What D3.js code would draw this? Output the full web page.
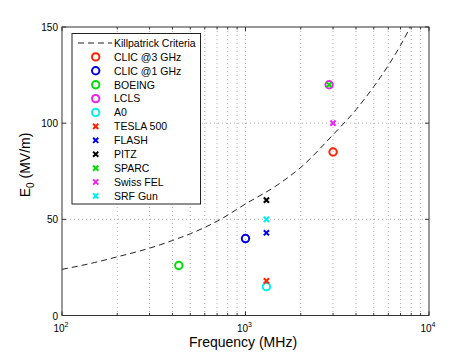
<!DOCTYPE html>
<html><head><meta charset="utf-8">
<script src="https://cdn.jsdelivr.net/npm/d3@7"></script>
<style>
html,body{margin:0;padding:0;background:#fff;}
svg{display:block;font-family:"Liberation Sans",Arial,Helvetica,sans-serif;}
</style></head>
<body><svg id="c" width="474" height="355"></svg>
<script>
// ---- data ----
const seriesNames = ["CLIC @3 GHz","CLIC @1 GHz","BOEING","LCLS","A0","TESLA 500","FLASH","PITZ","SPARC","Swiss FEL","SRF Gun"];
const seriesFreq  = [3000, 1000, 433, 2856, 1300, 1300, 1300, 1300, 2856, 3000, 1300];
const seriesE0    = [85, 40, 26, 120, 15, 18, 43, 60, 120, 100, 50];
const seriesShape = ["o","o","o","o","o","x","x","x","x","x","x"];
const seriesColor = ["#ff2200","#0000ee","#00dd00","#ee22ee","#00eeee","#ff2200","#0000ee","#000000","#00dd00","#ee22ee","#00eeee"];
const kilFreq = [100, 150, 200, 300, 400, 500, 700, 1000, 1500, 2000, 3000, 4000, 5000, 6000, 7000, 7900];
const kilE0   = [24, 27.5, 30.5, 35, 39, 42.5, 49, 58, 68, 77, 94, 107, 119, 130, 140.5, 150];
const yTicks = [0, 50, 100, 150];
const xMajor = [100, 1000, 10000];

// ---- layout ----
const svg = d3.select("#c");
const L = 62, R = 429, T = 27, B = 315.5;
const x = d3.scaleLog().domain([100, 10000]).range([L, R]);
const y = d3.scaleLinear().domain([0, 150]).range([B, T]);

const xMinor = [];
[100, 1000].forEach(d => { for (let k = 2; k <= 9; k++) xMinor.push(d * k); });

// grid
const grid = svg.append("g").attr("stroke", "#9a9a9a").attr("stroke-width", 0.8).attr("stroke-dasharray", "1,3");
xMinor.concat([1000]).forEach(f => {
  grid.append("line").attr("x1", x(f)).attr("x2", x(f)).attr("y1", T).attr("y2", B);
});
[50, 100].forEach(v => {
  grid.append("line").attr("x1", L).attr("x2", R).attr("y1", y(v)).attr("y2", y(v));
});

// Kilpatrick line
svg.append("clipPath").attr("id", "pc").append("rect").attr("x", L).attr("y", T).attr("width", R - L).attr("height", B - T);
const kil = kilFreq.map((f, i) => [f, kilE0[i]]);
svg.append("path").attr("clip-path", "url(#pc)")
  .attr("d", d3.line().curve(d3.curveMonotoneX).x(d => x(d[0])).y(d => y(d[1]))(kil))
  .attr("fill", "none").attr("stroke", "#222").attr("stroke-width", 1).attr("stroke-dasharray", "6,4");

// markers
function drawMarker(g, shape, color, cx, cy) {
  if (shape === "o") {
    g.append("circle").attr("cx", cx).attr("cy", cy).attr("r", 3.7)
      .attr("fill", "none").attr("stroke", color).attr("stroke-width", 2);
  } else {
    const s = 2.6;
    g.append("path").attr("d", `M${cx - s},${cy - s}L${cx + s},${cy + s}M${cx - s},${cy + s}L${cx + s},${cy - s}`)
      .attr("stroke", color).attr("stroke-width", 2).attr("fill", "none");
  }
}
const mg = svg.append("g");
seriesNames.forEach((n, i) => drawMarker(mg, seriesShape[i], seriesColor[i], x(seriesFreq[i]), y(seriesE0[i])));

// axes box + ticks
const ax = svg.append("g").attr("stroke", "#333").attr("stroke-width", 1);
ax.append("rect").attr("x", L).attr("y", T).attr("width", R - L).attr("height", B - T).attr("fill", "none");
const tl = 4, tm = 2.5;
xMajor.forEach(f => {
  ax.append("line").attr("x1", x(f)).attr("x2", x(f)).attr("y1", B).attr("y2", B - tl);
  ax.append("line").attr("x1", x(f)).attr("x2", x(f)).attr("y1", T).attr("y2", T + tl);
});
xMinor.forEach(f => {
  ax.append("line").attr("x1", x(f)).attr("x2", x(f)).attr("y1", B).attr("y2", B - tm);
  ax.append("line").attr("x1", x(f)).attr("x2", x(f)).attr("y1", T).attr("y2", T + tm);
});
yTicks.forEach(v => {
  ax.append("line").attr("x1", L).attr("x2", L + tl).attr("y1", y(v)).attr("y2", y(v));
  ax.append("line").attr("x1", R).attr("x2", R - tl).attr("y1", y(v)).attr("y2", y(v));
});

// tick labels
const tg = svg.append("g").attr("font-size", 10).attr("fill", "#000");
yTicks.forEach(v => {
  tg.append("text").attr("x", L - 4).attr("y", y(v) + 4).attr("text-anchor", "end").text(v);
});
xMajor.forEach(f => {
  const t = tg.append("text").attr("x", x(f) - 1).attr("y", B + 16).attr("text-anchor", "middle");
  t.append("tspan").text("10");
  t.append("tspan").attr("font-size", 7).attr("dy", -5).text(Math.round(Math.log10(f)));
});

// axis titles
svg.append("text").attr("x", 243).attr("y", 347).attr("text-anchor", "middle")
  .attr("font-size", 14).text("Frequency (MHz)");
const yt = svg.append("text").attr("transform", `translate(30,165) rotate(-90)`)
  .attr("text-anchor", "middle").attr("font-size", 14);
yt.append("tspan").text("E");
yt.append("tspan").attr("font-size", 10).attr("dy", 4).text("0");
yt.append("tspan").attr("dy", -4).text(" (MV/m)");

// legend
const lg = svg.append("g");
lg.append("rect").attr("x", 72).attr("y", 33.5).attr("width", 128.5).attr("height", 170.5)
  .attr("fill", "#fff").attr("stroke", "#222").attr("stroke-width", 1);
const ly0 = 43, ldy = 13.9;
lg.append("line").attr("x1", 78).attr("x2", 112).attr("y1", ly0).attr("y2", ly0)
  .attr("stroke", "#222").attr("stroke-width", 1).attr("stroke-dasharray", "6,4");
lg.append("text").attr("x", 114).attr("y", ly0 + 3.8).attr("font-size", 10.5).text("Killpatrick Criteria");
seriesNames.forEach((n, i) => {
  const yy = ly0 + ldy * (i + 1);
  drawMarker(lg, seriesShape[i], seriesColor[i], 95.7, yy);
  lg.append("text").attr("x", 114).attr("y", yy + 3.8).attr("font-size", 10.5).text(n);
});
</script></body></html>
